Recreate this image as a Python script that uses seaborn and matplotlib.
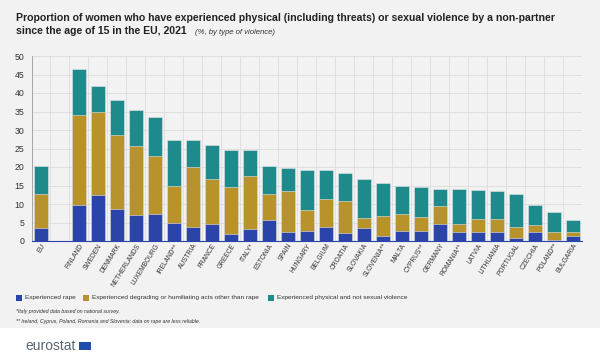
import matplotlib
matplotlib.use("Agg")
import matplotlib.pyplot as plt
import seaborn as sns
import pandas as pd
from matplotlib.patches import Rectangle

# data
countries = ["EU", " ", "FINLAND", "SWEDEN", "DENMARK", "NETHERLANDS", "LUXEMBOURG",
             "IRELAND**", "AUSTRIA", "FRANCE", "GREECE", "ITALY*", "ESTONIA", "SPAIN",
             "HUNGARY", "BELGIUM", "CROATIA", "SLOVAKIA", "SLOVENIA**", "MALTA",
             "CYPRUS**", "GERMANY", "ROMANIA**", "LATVIA", "LITHUANIA", "PORTUGAL",
             "CZECHIA", "POLAND**", "BULGARIA"]
rape = [3.6, None, 9.6, 12.5, 8.7, 6.9, 7.2, 5.0, 3.8, 4.7, 1.8, 3.2, 5.6, 2.5,
        2.8, 3.8, 2.1, 3.6, 1.4, 2.8, 2.8, 4.5, 2.3, 2.4, 2.5, 0.9, 2.5, 0.4, 1.4]
degrading = [9.1, None, 24.5, 22.5, 20.0, 18.8, 15.8, 9.8, 16.2, 12.0, 12.7, 14.4, 7.1, 10.9,
             5.5, 7.5, 8.6, 2.6, 5.3, 4.4, 3.7, 5.0, 2.3, 3.5, 3.5, 2.9, 1.8, 1.9, 1.0]
physical = [7.5, None, 12.3, 6.9, 9.4, 9.7, 10.6, 12.6, 7.4, 9.3, 10.2, 7.1, 7.7, 6.4,
            10.8, 7.8, 7.8, 10.6, 9.1, 7.7, 8.0, 4.5, 9.4, 7.8, 7.4, 9.0, 5.3, 5.6, 3.3]

blue = "#2B44A9"
gold = "#B8922B"
teal = "#1E8A8C"
bg = "#F2F2F2"

df = pd.DataFrame({"country": countries, "rape": rape,
                   "degrading": degrading, "physical": physical}).dropna()
df["lvl1"] = df["rape"]
df["lvl2"] = df["rape"] + df["degrading"]
df["lvl3"] = df["lvl2"] + df["physical"]

sns.set_style("whitegrid")
plt.rcParams["font.family"] = ["Liberation Sans", "DejaVu Sans"]

fig = plt.figure(figsize=(6, 3.6), dpi=100)
fig.patch.set_facecolor("white")
fig.add_artist(Rectangle((0, 1 - 328 / 360), 1, 328 / 360, transform=fig.transFigure,
                         facecolor=bg, edgecolor="none", zorder=0))

ax = fig.add_axes([0.0525, 1 - 241 / 360, 0.918, 185 / 360])
ax.set_facecolor(bg)

# stacked bars: draw cumulative totals back to front
for col, c in [("lvl3", teal), ("lvl2", gold), ("lvl1", blue)]:
    sns.barplot(data=df, x="country", y=col, order=countries, color=c, saturation=1,
                width=0.72, edgecolor="#e6e6e6", linewidth=0.4, ax=ax, zorder=3)

ax.set_ylim(0, 50)
ax.set_yticks(range(0, 51, 5))
ax.set_xlim(-0.5, len(countries) - 0.5)
ax.set_xlabel("")
ax.set_ylabel("")
ax.tick_params(axis="y", labelsize=6.3, pad=5, length=0, colors="#333333")
ax.tick_params(axis="x", labelsize=4.8, length=0, pad=1, colors="#333333")
plt.setp(ax.get_xticklabels(), rotation=58, ha="right", rotation_mode="anchor")

# grid: horizontal each 5, vertical at category boundaries
ax.grid(False)
for yv in range(5, 51, 5):
    ax.axhline(yv, color="#dcdcdc", lw=0.6, zorder=1)
for xv in range(len(countries)):
    ax.axvline(xv + 0.5, color="#dcdcdc", lw=0.6, zorder=1)
for s in ["top", "right"]:
    ax.spines[s].set_visible(False)
ax.spines["left"].set_color("#999999")
ax.spines["left"].set_linewidth(0.6)
ax.spines["bottom"].set_color(blue)
ax.spines["bottom"].set_linewidth(0.8)

# title
fig.text(0.026, 1 - 18 / 360, "Proportion of women who have experienced physical (including threats) "
         "or sexual violence by a non-partner", fontsize=7.6, fontweight="bold",
         va="center", ha="left", color="#222222")
fig.text(0.026, 1 - 31 / 360, "since the age of 15 in the EU, 2021", fontsize=7.6,
         fontweight="bold", va="center", ha="left", color="#222222")
fig.text(195 / 600, 1 - 32 / 360, "(%, by type of violence)", fontsize=5.6, style="italic",
         va="center", ha="left", color="#333333")

# legend
leg_items = [(16, blue, "Experienced rape"),
             (83, gold, "Experienced degrading or humiliating acts other than rape"),
             (268, teal, "Experienced physical and not sexual violence")]
for x, c, txt in leg_items:
    fig.add_artist(Rectangle((x / 600, 1 - 301 / 360), 6 / 600, 6 / 360,
                             transform=fig.transFigure, facecolor=c, edgecolor="none"))
    fig.text((x + 9) / 600, 1 - 298 / 360, txt, fontsize=4.65, va="center", ha="left",
             color="#333333")

fig.text(16 / 600, 1 - 311 / 360, "*Italy provided data based on national survey.",
         fontsize=3.7, style="italic", va="center", ha="left", color="#333333")
fig.text(16 / 600, 1 - 321 / 360,
         "** Ireland, Cyprus, Poland, Romania and Slovenia: data on rape are less reliable.",
         fontsize=3.7, style="italic", va="center", ha="left", color="#333333")

# eurostat logo text
fig.text(25 / 600, 1 - 346 / 360, "eurostat", fontsize=10, va="center", ha="left",
         color="#5a6570")
fig.add_artist(Rectangle((79 / 600, 1 - 350 / 360), 12 / 600, 8 / 360,
                         transform=fig.transFigure, facecolor="#1F4EA8", edgecolor="none"))

fig.savefig("out.png", dpi=100, facecolor="white")
